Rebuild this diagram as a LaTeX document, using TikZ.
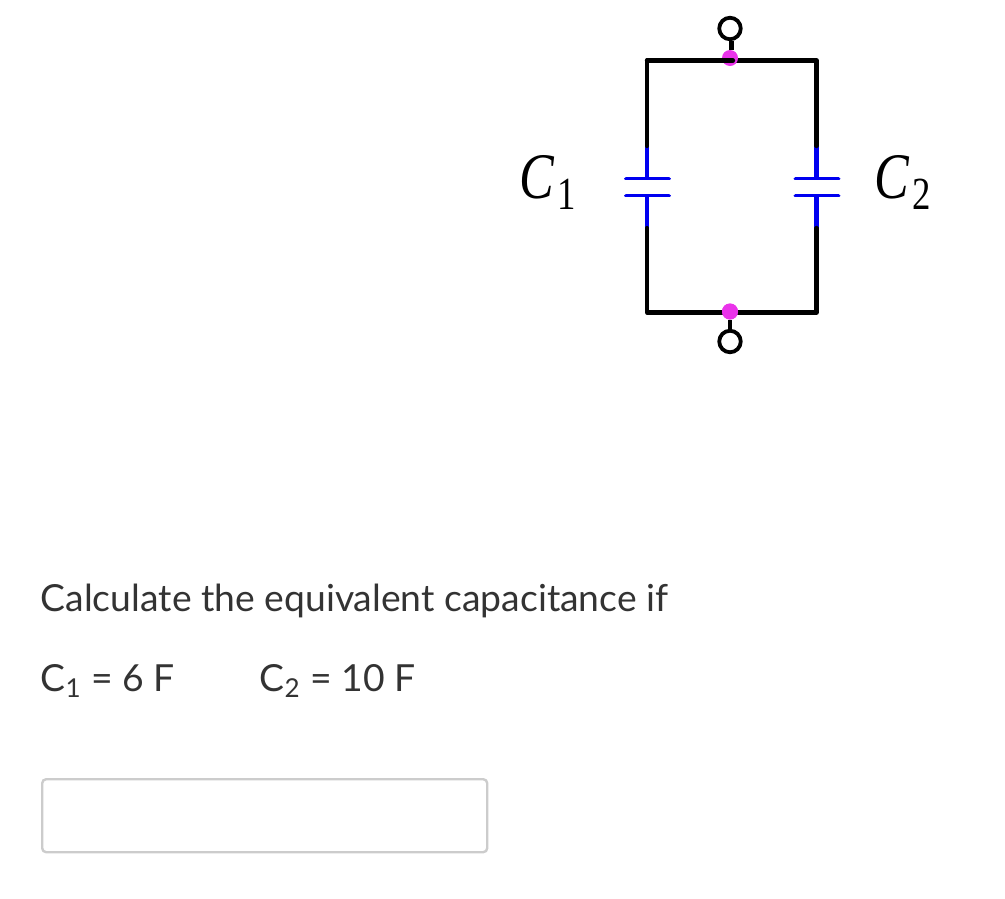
\documentclass[tikz,border=0pt]{standalone}
\usepackage{fontspec}
\setmainfont{Lato}
\newfontfamily\labelfont{Liberation Serif}
\definecolor{textgray}{HTML}{333333}
\definecolor{boxgray}{HTML}{CCCCCC}
\definecolor{dotpink}{HTML}{EA33EA}
\definecolor{capblue}{HTML}{0000F0}
\newcommand{\subnum}[1]{\raisebox{-6.5pt}{\fontsize{26}{26}\selectfont #1\hspace{1pt}}}
\newcommand{\complab}[1]{\scalebox{0.8}[1]{\labelfont\fontsize{65}{65}\selectfont\itshape C\hspace{5pt}\raisebox{-11pt}{\upshape\fontsize{46}{46}\selectfont #1}}}
\tikzset{
	wire/.style={line width=4.2pt, line cap=round, line join=round},
	stub/.style={line width=4.2pt},
	capwire/.style={line width=4.4pt, capblue},
	plate/.style={line width=3.8pt, capblue, line cap=round},
	terminal/.style={circle, draw, line width=3.8pt, minimum size=21.5pt, inner sep=0pt},
	joint/.style={circle, fill=dotpink, minimum size=16pt, inner sep=0pt},
	question/.style={anchor=base west, inner sep=0pt, text=textgray, font=\fontsize{37.3}{37.3}\selectfont},
	complabel/.style={inner sep=0pt, anchor=base west}
}
\begin{document}
\begin{tikzpicture}[x=1pt, y=-1pt]
	\useasboundingbox (0,0) rectangle (1005,898);
	% outer corners of the loop
	\coordinate (topleft) at (647,60.5);
	\coordinate (topright) at (816.5,60.5);
	\coordinate (botleft) at (647,312.5);
	\coordinate (botright) at (816.5,312.5);
	% terminals
	\node[terminal] (topterm) at (730,28.5) {};
	\node[terminal] (botterm) at (730,341.5) {};
	\coordinate (topend) at (733,60.5);
	\foreach \name/\xpos in {capa/647, capb/816.5}
	{
		% wire ends and plates
		\coordinate (\name_top) at (\xpos,146);
		\coordinate (\name_bot) at (\xpos,228);
		\coordinate (\name_upper) at (\xpos,178.5);
		\coordinate (\name_lower) at (\xpos,195.5);
		\draw[capwire] (\name_top) -- (\name_upper);
		\draw[capwire] (\name_lower) -- (\name_bot);
		\draw[plate] (\xpos-21,178.5) -- (\xpos+22,178.5);
		\draw[plate] (\xpos-21,195.5) -- (\xpos+22,195.5);
	}
	\draw[wire] (capa_top) -- (topleft) -- (topright) -- (capb_top);
	\draw[wire] (capa_bot) -- (botleft) -- (botright) -- (capb_bot);
	% joints on the wires
	\node[joint] (topjoint) at (730,58) {};
	\node[joint] (botjoint) at (730,311.5) {};
	\draw[stub] ([xshift=1.5pt]topterm.south) -- ([xshift=1.5pt]topjoint.north);
	\draw[stub] (botterm) -- (botjoint);
	\node[joint] at (botjoint) {};
	\draw[wire] (topleft) -- (topend);
	% labels
	\node[complabel] (labela) at (519,198) {\complab{1}};
	\node[complabel] (labelb) at (874,198) {\complab{2}};
	% question text
	\node[question] (calc) at (40.5,611) {Calculate the equivalent capacitance if};
	\node[question] (vala) at (40.5,691) {C\subnum{1} = 6 F};
	\node[question] (valb) at (259.5,691) {C\subnum{2} = 10 F};
	\node[draw=boxgray, line width=2.4pt, rounded corners=4pt, minimum width=445pt, minimum height=73pt, anchor=north west, inner sep=0pt] (answer) at (41,778) {};
\end{tikzpicture}
\end{document}
